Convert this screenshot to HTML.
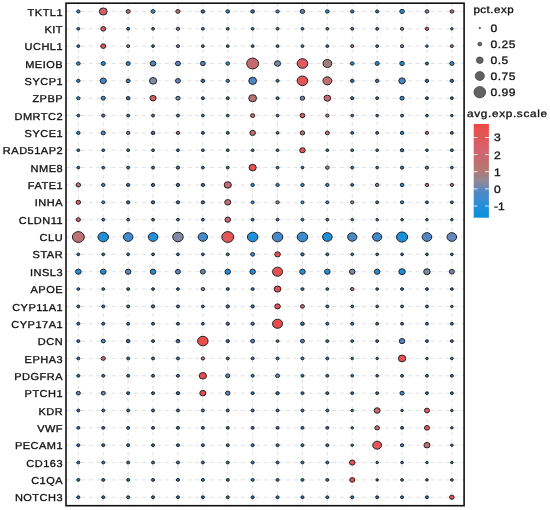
<!DOCTYPE html>
<html><head><meta charset="utf-8"><title>DotPlot</title>
<style>html,body{margin:0;padding:0;background:#fff;width:550px;height:510px;overflow:hidden}svg{display:block;}</style>
</head><body>
<svg width="550" height="510" viewBox="0 0 550 510" text-rendering="geometricPrecision">
<rect x="0" y="0" width="550" height="510" fill="#fff"/>
<g stroke="#dcdcdc" stroke-width="0.85" fill="none"><line x1="66.00" y1="11.45" x2="464.10" y2="11.45" stroke-dasharray="4 3.6"/><line x1="66.00" y1="28.80" x2="464.10" y2="28.80" stroke-dasharray="4 3.6"/><line x1="66.00" y1="46.15" x2="464.10" y2="46.15" stroke-dasharray="4 3.6"/><line x1="66.00" y1="63.50" x2="464.10" y2="63.50" stroke-dasharray="4 3.6"/><line x1="66.00" y1="80.85" x2="464.10" y2="80.85" stroke-dasharray="4 3.6"/><line x1="66.00" y1="98.20" x2="464.10" y2="98.20" stroke-dasharray="4 3.6"/><line x1="66.00" y1="115.55" x2="464.10" y2="115.55" stroke-dasharray="4 3.6"/><line x1="66.00" y1="132.90" x2="464.10" y2="132.90" stroke-dasharray="4 3.6"/><line x1="66.00" y1="150.25" x2="464.10" y2="150.25" stroke-dasharray="4 3.6"/><line x1="66.00" y1="167.60" x2="464.10" y2="167.60" stroke-dasharray="4 3.6"/><line x1="66.00" y1="184.95" x2="464.10" y2="184.95" stroke-dasharray="4 3.6"/><line x1="66.00" y1="202.30" x2="464.10" y2="202.30" stroke-dasharray="4 3.6"/><line x1="66.00" y1="219.65" x2="464.10" y2="219.65" stroke-dasharray="4 3.6"/><line x1="66.00" y1="237.00" x2="464.10" y2="237.00" stroke-dasharray="4 3.6"/><line x1="66.00" y1="254.35" x2="464.10" y2="254.35" stroke-dasharray="4 3.6"/><line x1="66.00" y1="271.70" x2="464.10" y2="271.70" stroke-dasharray="4 3.6"/><line x1="66.00" y1="289.05" x2="464.10" y2="289.05" stroke-dasharray="4 3.6"/><line x1="66.00" y1="306.40" x2="464.10" y2="306.40" stroke-dasharray="4 3.6"/><line x1="66.00" y1="323.75" x2="464.10" y2="323.75" stroke-dasharray="4 3.6"/><line x1="66.00" y1="341.10" x2="464.10" y2="341.10" stroke-dasharray="4 3.6"/><line x1="66.00" y1="358.45" x2="464.10" y2="358.45" stroke-dasharray="4 3.6"/><line x1="66.00" y1="375.80" x2="464.10" y2="375.80" stroke-dasharray="4 3.6"/><line x1="66.00" y1="393.15" x2="464.10" y2="393.15" stroke-dasharray="4 3.6"/><line x1="66.00" y1="410.50" x2="464.10" y2="410.50" stroke-dasharray="4 3.6"/><line x1="66.00" y1="427.85" x2="464.10" y2="427.85" stroke-dasharray="4 3.6"/><line x1="66.00" y1="445.20" x2="464.10" y2="445.20" stroke-dasharray="4 3.6"/><line x1="66.00" y1="462.55" x2="464.10" y2="462.55" stroke-dasharray="4 3.6"/><line x1="66.00" y1="479.90" x2="464.10" y2="479.90" stroke-dasharray="4 3.6"/><line x1="66.00" y1="497.25" x2="464.10" y2="497.25" stroke-dasharray="4 3.6"/><line x1="78.35" y1="3.20" x2="78.35" y2="505.70" stroke-dasharray="3.4 3.2"/><line x1="103.25" y1="3.20" x2="103.25" y2="505.70" stroke-dasharray="3.4 3.2"/><line x1="128.15" y1="3.20" x2="128.15" y2="505.70" stroke-dasharray="3.4 3.2"/><line x1="153.05" y1="3.20" x2="153.05" y2="505.70" stroke-dasharray="3.4 3.2"/><line x1="177.95" y1="3.20" x2="177.95" y2="505.70" stroke-dasharray="3.4 3.2"/><line x1="202.85" y1="3.20" x2="202.85" y2="505.70" stroke-dasharray="3.4 3.2"/><line x1="227.75" y1="3.20" x2="227.75" y2="505.70" stroke-dasharray="3.4 3.2"/><line x1="252.65" y1="3.20" x2="252.65" y2="505.70" stroke-dasharray="3.4 3.2"/><line x1="277.55" y1="3.20" x2="277.55" y2="505.70" stroke-dasharray="3.4 3.2"/><line x1="302.45" y1="3.20" x2="302.45" y2="505.70" stroke-dasharray="3.4 3.2"/><line x1="327.35" y1="3.20" x2="327.35" y2="505.70" stroke-dasharray="3.4 3.2"/><line x1="352.25" y1="3.20" x2="352.25" y2="505.70" stroke-dasharray="3.4 3.2"/><line x1="377.15" y1="3.20" x2="377.15" y2="505.70" stroke-dasharray="3.4 3.2"/><line x1="402.05" y1="3.20" x2="402.05" y2="505.70" stroke-dasharray="3.4 3.2"/><line x1="426.95" y1="3.20" x2="426.95" y2="505.70" stroke-dasharray="3.4 3.2"/><line x1="451.85" y1="3.20" x2="451.85" y2="505.70" stroke-dasharray="3.4 3.2"/></g>
<g stroke="#222228" stroke-width="1.0"><ellipse cx="78.35" cy="11.45" rx="1.70" ry="1.55" fill="#2090d8"/><ellipse cx="103.25" cy="11.45" rx="3.90" ry="3.55" fill="#d8606a"/><ellipse cx="128.15" cy="11.45" rx="2.10" ry="1.91" fill="#c07070"/><ellipse cx="153.05" cy="11.45" rx="2.00" ry="1.82" fill="#2f8ed3"/><ellipse cx="177.95" cy="11.45" rx="2.10" ry="1.91" fill="#ba7473"/><ellipse cx="202.85" cy="11.45" rx="1.85" ry="1.68" fill="#3c6c9f"/><ellipse cx="227.75" cy="11.45" rx="1.85" ry="1.68" fill="#2090d8"/><ellipse cx="252.65" cy="11.45" rx="1.85" ry="1.68" fill="#2970a7"/><ellipse cx="277.55" cy="11.45" rx="1.70" ry="1.55" fill="#2090d8"/><ellipse cx="302.45" cy="11.45" rx="2.25" ry="2.05" fill="#5988c0"/><ellipse cx="327.35" cy="11.45" rx="1.85" ry="1.68" fill="#2090d8"/><ellipse cx="352.25" cy="11.45" rx="1.70" ry="1.55" fill="#2970a7"/><ellipse cx="377.15" cy="11.45" rx="1.65" ry="1.50" fill="#2970a7"/><ellipse cx="402.05" cy="11.45" rx="2.30" ry="2.09" fill="#1a90d9"/><ellipse cx="426.95" cy="11.45" rx="1.85" ry="1.68" fill="#8189a3"/><ellipse cx="451.85" cy="11.45" rx="1.85" ry="1.68" fill="#cc6670"/><ellipse cx="78.35" cy="28.80" rx="1.45" ry="1.32" fill="#2970a7"/><ellipse cx="103.25" cy="28.80" rx="2.50" ry="2.27" fill="#db5d63"/><ellipse cx="128.15" cy="28.80" rx="1.55" ry="1.41" fill="#2970a7"/><ellipse cx="153.05" cy="28.80" rx="1.45" ry="1.32" fill="#2970a7"/><ellipse cx="177.95" cy="28.80" rx="1.70" ry="1.55" fill="#8189a3"/><ellipse cx="202.85" cy="28.80" rx="1.45" ry="1.32" fill="#2970a7"/><ellipse cx="227.75" cy="28.80" rx="1.45" ry="1.32" fill="#2970a7"/><ellipse cx="252.65" cy="28.80" rx="1.45" ry="1.32" fill="#2970a7"/><ellipse cx="277.55" cy="28.80" rx="1.45" ry="1.32" fill="#2970a7"/><ellipse cx="302.45" cy="28.80" rx="1.45" ry="1.32" fill="#2970a7"/><ellipse cx="327.35" cy="28.80" rx="1.45" ry="1.32" fill="#2970a7"/><ellipse cx="352.25" cy="28.80" rx="1.50" ry="1.36" fill="#3c6c9f"/><ellipse cx="377.15" cy="28.80" rx="1.50" ry="1.36" fill="#2970a7"/><ellipse cx="402.05" cy="28.80" rx="1.65" ry="1.50" fill="#7a88a8"/><ellipse cx="426.95" cy="28.80" rx="1.75" ry="1.59" fill="#d8606a"/><ellipse cx="451.85" cy="28.80" rx="1.30" ry="1.18" fill="#2090d8"/><ellipse cx="78.35" cy="46.15" rx="1.45" ry="1.32" fill="#2970a7"/><ellipse cx="103.25" cy="46.15" rx="2.50" ry="2.27" fill="#e05858"/><ellipse cx="128.15" cy="46.15" rx="1.55" ry="1.41" fill="#908a98"/><ellipse cx="153.05" cy="46.15" rx="1.45" ry="1.32" fill="#2970a7"/><ellipse cx="177.95" cy="46.15" rx="1.55" ry="1.41" fill="#8189a3"/><ellipse cx="202.85" cy="46.15" rx="1.45" ry="1.32" fill="#4c6c97"/><ellipse cx="227.75" cy="46.15" rx="1.45" ry="1.32" fill="#2970a7"/><ellipse cx="252.65" cy="46.15" rx="1.45" ry="1.32" fill="#2970a7"/><ellipse cx="277.55" cy="46.15" rx="1.45" ry="1.32" fill="#2970a7"/><ellipse cx="302.45" cy="46.15" rx="1.45" ry="1.32" fill="#2970a7"/><ellipse cx="327.35" cy="46.15" rx="1.45" ry="1.32" fill="#2970a7"/><ellipse cx="352.25" cy="46.15" rx="1.55" ry="1.41" fill="#b07a78"/><ellipse cx="377.15" cy="46.15" rx="1.45" ry="1.32" fill="#2970a7"/><ellipse cx="402.05" cy="46.15" rx="1.65" ry="1.50" fill="#7a88a8"/><ellipse cx="426.95" cy="46.15" rx="1.30" ry="1.18" fill="#2090d8"/><ellipse cx="451.85" cy="46.15" rx="1.55" ry="1.41" fill="#c07070"/><ellipse cx="78.35" cy="63.50" rx="1.85" ry="1.68" fill="#2090d8"/><ellipse cx="103.25" cy="63.50" rx="2.10" ry="1.91" fill="#2090d8"/><ellipse cx="128.15" cy="63.50" rx="2.10" ry="1.91" fill="#2f8ed3"/><ellipse cx="153.05" cy="63.50" rx="2.80" ry="2.55" fill="#4a88c8"/><ellipse cx="177.95" cy="63.50" rx="2.50" ry="2.27" fill="#5988c0"/><ellipse cx="202.85" cy="63.50" rx="2.40" ry="2.18" fill="#418acd"/><ellipse cx="227.75" cy="63.50" rx="1.85" ry="1.68" fill="#2090d8"/><ellipse cx="252.65" cy="63.50" rx="5.95" ry="5.41" fill="#c76a70"/><ellipse cx="277.55" cy="63.50" rx="3.05" ry="2.77" fill="#7a88a8"/><ellipse cx="302.45" cy="63.50" rx="5.30" ry="4.82" fill="#dd5b5f"/><ellipse cx="327.35" cy="63.50" rx="4.30" ry="3.91" fill="#a27f7f"/><ellipse cx="352.25" cy="63.50" rx="1.85" ry="1.68" fill="#2090d8"/><ellipse cx="377.15" cy="63.50" rx="2.10" ry="1.91" fill="#2090d8"/><ellipse cx="402.05" cy="63.50" rx="2.30" ry="2.09" fill="#1a90d9"/><ellipse cx="426.95" cy="63.50" rx="1.55" ry="1.41" fill="#2970a7"/><ellipse cx="451.85" cy="63.50" rx="2.10" ry="1.91" fill="#3c8bcf"/><ellipse cx="78.35" cy="80.85" rx="1.70" ry="1.55" fill="#2090d8"/><ellipse cx="103.25" cy="80.85" rx="3.05" ry="2.77" fill="#418acd"/><ellipse cx="128.15" cy="80.85" rx="2.00" ry="1.82" fill="#2f8ed3"/><ellipse cx="153.05" cy="80.85" rx="3.60" ry="3.27" fill="#8189a3"/><ellipse cx="177.95" cy="80.85" rx="2.50" ry="2.27" fill="#6088bc"/><ellipse cx="202.85" cy="80.85" rx="1.85" ry="1.68" fill="#2970a7"/><ellipse cx="227.75" cy="80.85" rx="1.70" ry="1.55" fill="#2090d8"/><ellipse cx="252.65" cy="80.85" rx="3.90" ry="3.55" fill="#4a88c8"/><ellipse cx="277.55" cy="80.85" rx="1.55" ry="1.41" fill="#2970a7"/><ellipse cx="302.45" cy="80.85" rx="5.30" ry="4.82" fill="#e35554"/><ellipse cx="327.35" cy="80.85" rx="4.45" ry="4.05" fill="#c07070"/><ellipse cx="352.25" cy="80.85" rx="1.75" ry="1.59" fill="#2970a7"/><ellipse cx="377.15" cy="80.85" rx="1.75" ry="1.59" fill="#2970a7"/><ellipse cx="402.05" cy="80.85" rx="3.25" ry="2.95" fill="#4a88c8"/><ellipse cx="426.95" cy="80.85" rx="1.75" ry="1.59" fill="#2970a7"/><ellipse cx="451.85" cy="80.85" rx="1.75" ry="1.59" fill="#2970a7"/><ellipse cx="78.35" cy="98.20" rx="1.70" ry="1.55" fill="#2090d8"/><ellipse cx="103.25" cy="98.20" rx="2.10" ry="1.91" fill="#418acd"/><ellipse cx="128.15" cy="98.20" rx="1.85" ry="1.68" fill="#366da3"/><ellipse cx="153.05" cy="98.20" rx="3.05" ry="2.77" fill="#dd5b5f"/><ellipse cx="177.95" cy="98.20" rx="2.10" ry="1.91" fill="#7a88a8"/><ellipse cx="202.85" cy="98.20" rx="1.55" ry="1.41" fill="#2970a7"/><ellipse cx="227.75" cy="98.20" rx="1.55" ry="1.41" fill="#2970a7"/><ellipse cx="252.65" cy="98.20" rx="3.90" ry="3.55" fill="#ba7473"/><ellipse cx="277.55" cy="98.20" rx="1.55" ry="1.41" fill="#2970a7"/><ellipse cx="302.45" cy="98.20" rx="2.25" ry="2.05" fill="#6d88b2"/><ellipse cx="327.35" cy="98.20" rx="3.35" ry="3.05" fill="#d1646e"/><ellipse cx="352.25" cy="98.20" rx="1.65" ry="1.50" fill="#366da3"/><ellipse cx="377.15" cy="98.20" rx="1.50" ry="1.36" fill="#2970a7"/><ellipse cx="402.05" cy="98.20" rx="2.10" ry="1.91" fill="#1a90d9"/><ellipse cx="426.95" cy="98.20" rx="1.50" ry="1.36" fill="#2970a7"/><ellipse cx="451.85" cy="98.20" rx="1.50" ry="1.36" fill="#2970a7"/><ellipse cx="78.35" cy="115.55" rx="1.45" ry="1.32" fill="#2970a7"/><ellipse cx="103.25" cy="115.55" rx="1.70" ry="1.55" fill="#4c6c97"/><ellipse cx="128.15" cy="115.55" rx="1.55" ry="1.41" fill="#2970a7"/><ellipse cx="153.05" cy="115.55" rx="1.55" ry="1.41" fill="#2970a7"/><ellipse cx="177.95" cy="115.55" rx="1.55" ry="1.41" fill="#366da3"/><ellipse cx="202.85" cy="115.55" rx="1.45" ry="1.32" fill="#2970a7"/><ellipse cx="227.75" cy="115.55" rx="1.45" ry="1.32" fill="#2970a7"/><ellipse cx="252.65" cy="115.55" rx="2.10" ry="1.91" fill="#c07070"/><ellipse cx="277.55" cy="115.55" rx="1.45" ry="1.32" fill="#2970a7"/><ellipse cx="302.45" cy="115.55" rx="2.40" ry="2.18" fill="#e05858"/><ellipse cx="327.35" cy="115.55" rx="1.70" ry="1.55" fill="#a27f7f"/><ellipse cx="352.25" cy="115.55" rx="1.45" ry="1.32" fill="#2970a7"/><ellipse cx="377.15" cy="115.55" rx="1.40" ry="1.27" fill="#2970a7"/><ellipse cx="402.05" cy="115.55" rx="1.50" ry="1.36" fill="#326ea4"/><ellipse cx="426.95" cy="115.55" rx="1.40" ry="1.27" fill="#2970a7"/><ellipse cx="451.85" cy="115.55" rx="1.30" ry="1.18" fill="#2970a7"/><ellipse cx="78.35" cy="132.90" rx="1.70" ry="1.55" fill="#2090d8"/><ellipse cx="103.25" cy="132.90" rx="2.10" ry="1.91" fill="#4a88c8"/><ellipse cx="128.15" cy="132.90" rx="1.70" ry="1.55" fill="#8189a3"/><ellipse cx="153.05" cy="132.90" rx="1.85" ry="1.68" fill="#366da3"/><ellipse cx="177.95" cy="132.90" rx="1.70" ry="1.55" fill="#b07a78"/><ellipse cx="202.85" cy="132.90" rx="1.55" ry="1.41" fill="#2970a7"/><ellipse cx="227.75" cy="132.90" rx="1.55" ry="1.41" fill="#2970a7"/><ellipse cx="252.65" cy="132.90" rx="2.80" ry="2.55" fill="#c07070"/><ellipse cx="277.55" cy="132.90" rx="1.45" ry="1.32" fill="#2970a7"/><ellipse cx="302.45" cy="132.90" rx="2.25" ry="2.05" fill="#c56c70"/><ellipse cx="327.35" cy="132.90" rx="2.00" ry="1.82" fill="#c07070"/><ellipse cx="352.25" cy="132.90" rx="1.50" ry="1.36" fill="#2970a7"/><ellipse cx="377.15" cy="132.90" rx="1.50" ry="1.36" fill="#366da3"/><ellipse cx="402.05" cy="132.90" rx="1.75" ry="1.59" fill="#1a90d9"/><ellipse cx="426.95" cy="132.90" rx="1.65" ry="1.50" fill="#ba7473"/><ellipse cx="451.85" cy="132.90" rx="1.50" ry="1.36" fill="#2970a7"/><ellipse cx="78.35" cy="150.25" rx="1.45" ry="1.32" fill="#2970a7"/><ellipse cx="103.25" cy="150.25" rx="1.45" ry="1.32" fill="#2970a7"/><ellipse cx="128.15" cy="150.25" rx="1.45" ry="1.32" fill="#2970a7"/><ellipse cx="153.05" cy="150.25" rx="1.45" ry="1.32" fill="#2970a7"/><ellipse cx="177.95" cy="150.25" rx="1.45" ry="1.32" fill="#2970a7"/><ellipse cx="202.85" cy="150.25" rx="1.45" ry="1.32" fill="#2970a7"/><ellipse cx="227.75" cy="150.25" rx="1.45" ry="1.32" fill="#2970a7"/><ellipse cx="252.65" cy="150.25" rx="1.45" ry="1.32" fill="#2970a7"/><ellipse cx="277.55" cy="150.25" rx="1.45" ry="1.32" fill="#2970a7"/><ellipse cx="302.45" cy="150.25" rx="2.80" ry="2.55" fill="#e35554"/><ellipse cx="327.35" cy="150.25" rx="1.45" ry="1.32" fill="#2970a7"/><ellipse cx="352.25" cy="150.25" rx="1.45" ry="1.32" fill="#366da3"/><ellipse cx="377.15" cy="150.25" rx="1.40" ry="1.27" fill="#366da3"/><ellipse cx="402.05" cy="150.25" rx="1.75" ry="1.59" fill="#3c6c9f"/><ellipse cx="426.95" cy="150.25" rx="1.40" ry="1.27" fill="#2970a7"/><ellipse cx="451.85" cy="150.25" rx="1.50" ry="1.36" fill="#3c6c9f"/><ellipse cx="78.35" cy="167.60" rx="1.45" ry="1.32" fill="#2970a7"/><ellipse cx="103.25" cy="167.60" rx="1.45" ry="1.32" fill="#2970a7"/><ellipse cx="128.15" cy="167.60" rx="1.55" ry="1.41" fill="#2970a7"/><ellipse cx="153.05" cy="167.60" rx="1.55" ry="1.41" fill="#2970a7"/><ellipse cx="177.95" cy="167.60" rx="1.70" ry="1.55" fill="#4c6c97"/><ellipse cx="202.85" cy="167.60" rx="1.45" ry="1.32" fill="#2970a7"/><ellipse cx="227.75" cy="167.60" rx="1.45" ry="1.32" fill="#2970a7"/><ellipse cx="252.65" cy="167.60" rx="3.60" ry="3.27" fill="#e45352"/><ellipse cx="277.55" cy="167.60" rx="1.45" ry="1.32" fill="#2970a7"/><ellipse cx="302.45" cy="167.60" rx="1.45" ry="1.32" fill="#2970a7"/><ellipse cx="327.35" cy="167.60" rx="1.85" ry="1.68" fill="#908a98"/><ellipse cx="352.25" cy="167.60" rx="1.50" ry="1.36" fill="#3c6c9f"/><ellipse cx="377.15" cy="167.60" rx="1.40" ry="1.27" fill="#2970a7"/><ellipse cx="402.05" cy="167.60" rx="1.65" ry="1.50" fill="#366da3"/><ellipse cx="426.95" cy="167.60" rx="1.65" ry="1.50" fill="#4c6c97"/><ellipse cx="451.85" cy="167.60" rx="1.40" ry="1.27" fill="#2970a7"/><ellipse cx="78.35" cy="184.95" rx="2.25" ry="2.05" fill="#ba7473"/><ellipse cx="103.25" cy="184.95" rx="1.70" ry="1.55" fill="#2090d8"/><ellipse cx="128.15" cy="184.95" rx="1.70" ry="1.55" fill="#3c6c9f"/><ellipse cx="153.05" cy="184.95" rx="1.70" ry="1.55" fill="#2970a7"/><ellipse cx="177.95" cy="184.95" rx="1.70" ry="1.55" fill="#3c6c9f"/><ellipse cx="202.85" cy="184.95" rx="1.70" ry="1.55" fill="#3c6c9f"/><ellipse cx="227.75" cy="184.95" rx="3.60" ry="3.27" fill="#cc6670"/><ellipse cx="252.65" cy="184.95" rx="1.70" ry="1.55" fill="#2090d8"/><ellipse cx="277.55" cy="184.95" rx="1.70" ry="1.55" fill="#2090d8"/><ellipse cx="302.45" cy="184.95" rx="1.70" ry="1.55" fill="#2090d8"/><ellipse cx="327.35" cy="184.95" rx="1.70" ry="1.55" fill="#2090d8"/><ellipse cx="352.25" cy="184.95" rx="1.50" ry="1.36" fill="#366da3"/><ellipse cx="377.15" cy="184.95" rx="1.75" ry="1.59" fill="#7a88a8"/><ellipse cx="402.05" cy="184.95" rx="1.85" ry="1.68" fill="#1690da"/><ellipse cx="426.95" cy="184.95" rx="1.75" ry="1.59" fill="#c07070"/><ellipse cx="451.85" cy="184.95" rx="1.65" ry="1.50" fill="#c07070"/><ellipse cx="78.35" cy="202.30" rx="2.25" ry="2.05" fill="#dd5b5f"/><ellipse cx="103.25" cy="202.30" rx="1.55" ry="1.41" fill="#2090d8"/><ellipse cx="128.15" cy="202.30" rx="1.70" ry="1.55" fill="#3c6c9f"/><ellipse cx="153.05" cy="202.30" rx="1.70" ry="1.55" fill="#2970a7"/><ellipse cx="177.95" cy="202.30" rx="1.70" ry="1.55" fill="#366da3"/><ellipse cx="202.85" cy="202.30" rx="1.70" ry="1.55" fill="#366da3"/><ellipse cx="227.75" cy="202.30" rx="3.05" ry="2.77" fill="#c76a70"/><ellipse cx="252.65" cy="202.30" rx="1.55" ry="1.41" fill="#2090d8"/><ellipse cx="277.55" cy="202.30" rx="1.70" ry="1.55" fill="#a27f7f"/><ellipse cx="302.45" cy="202.30" rx="1.55" ry="1.41" fill="#2090d8"/><ellipse cx="327.35" cy="202.30" rx="1.55" ry="1.41" fill="#2090d8"/><ellipse cx="352.25" cy="202.30" rx="1.65" ry="1.50" fill="#908a98"/><ellipse cx="377.15" cy="202.30" rx="1.50" ry="1.36" fill="#2970a7"/><ellipse cx="402.05" cy="202.30" rx="1.65" ry="1.50" fill="#1a90d9"/><ellipse cx="426.95" cy="202.30" rx="1.50" ry="1.36" fill="#2970a7"/><ellipse cx="451.85" cy="202.30" rx="1.50" ry="1.36" fill="#2970a7"/><ellipse cx="78.35" cy="219.65" rx="2.10" ry="1.91" fill="#dd5b5f"/><ellipse cx="103.25" cy="219.65" rx="1.45" ry="1.32" fill="#2970a7"/><ellipse cx="128.15" cy="219.65" rx="1.45" ry="1.32" fill="#2970a7"/><ellipse cx="153.05" cy="219.65" rx="1.45" ry="1.32" fill="#2970a7"/><ellipse cx="177.95" cy="219.65" rx="1.45" ry="1.32" fill="#2970a7"/><ellipse cx="202.85" cy="219.65" rx="1.45" ry="1.32" fill="#2970a7"/><ellipse cx="227.75" cy="219.65" rx="2.80" ry="2.55" fill="#cc6670"/><ellipse cx="252.65" cy="219.65" rx="1.45" ry="1.32" fill="#2970a7"/><ellipse cx="277.55" cy="219.65" rx="1.45" ry="1.32" fill="#2970a7"/><ellipse cx="302.45" cy="219.65" rx="1.45" ry="1.32" fill="#2970a7"/><ellipse cx="327.35" cy="219.65" rx="1.45" ry="1.32" fill="#2970a7"/><ellipse cx="352.25" cy="219.65" rx="1.30" ry="1.18" fill="#2970a7"/><ellipse cx="377.15" cy="219.65" rx="1.30" ry="1.18" fill="#2970a7"/><ellipse cx="402.05" cy="219.65" rx="1.30" ry="1.18" fill="#2970a7"/><ellipse cx="426.95" cy="219.65" rx="1.30" ry="1.18" fill="#2970a7"/><ellipse cx="451.85" cy="219.65" rx="1.30" ry="1.18" fill="#2970a7"/><ellipse cx="78.35" cy="237.00" rx="5.95" ry="5.41" fill="#ba7473"/><ellipse cx="103.25" cy="237.00" rx="5.25" ry="4.77" fill="#1d90d9"/><ellipse cx="128.15" cy="237.00" rx="4.80" ry="4.36" fill="#418acd"/><ellipse cx="153.05" cy="237.00" rx="4.80" ry="4.36" fill="#2090d8"/><ellipse cx="177.95" cy="237.00" rx="5.25" ry="4.77" fill="#8189a3"/><ellipse cx="202.85" cy="237.00" rx="4.70" ry="4.27" fill="#418acd"/><ellipse cx="227.75" cy="237.00" rx="5.95" ry="5.41" fill="#e05858"/><ellipse cx="252.65" cy="237.00" rx="5.25" ry="4.77" fill="#1d90d9"/><ellipse cx="277.55" cy="237.00" rx="5.25" ry="4.77" fill="#4589ca"/><ellipse cx="302.45" cy="237.00" rx="5.25" ry="4.77" fill="#3c8bcf"/><ellipse cx="327.35" cy="237.00" rx="4.80" ry="4.36" fill="#1d90d9"/><ellipse cx="352.25" cy="237.00" rx="4.60" ry="4.18" fill="#4a88c8"/><ellipse cx="377.15" cy="237.00" rx="4.60" ry="4.18" fill="#418acd"/><ellipse cx="402.05" cy="237.00" rx="5.55" ry="5.05" fill="#1a90d9"/><ellipse cx="426.95" cy="237.00" rx="4.80" ry="4.36" fill="#5188c4"/><ellipse cx="451.85" cy="237.00" rx="4.80" ry="4.36" fill="#6688b7"/><ellipse cx="78.35" cy="254.35" rx="1.45" ry="1.32" fill="#2970a7"/><ellipse cx="103.25" cy="254.35" rx="1.45" ry="1.32" fill="#2970a7"/><ellipse cx="128.15" cy="254.35" rx="1.45" ry="1.32" fill="#2970a7"/><ellipse cx="153.05" cy="254.35" rx="1.45" ry="1.32" fill="#2970a7"/><ellipse cx="177.95" cy="254.35" rx="1.45" ry="1.32" fill="#2970a7"/><ellipse cx="202.85" cy="254.35" rx="1.45" ry="1.32" fill="#2970a7"/><ellipse cx="227.75" cy="254.35" rx="1.55" ry="1.41" fill="#2970a7"/><ellipse cx="252.65" cy="254.35" rx="2.00" ry="1.82" fill="#418acd"/><ellipse cx="277.55" cy="254.35" rx="2.80" ry="2.55" fill="#e7504e"/><ellipse cx="302.45" cy="254.35" rx="1.70" ry="1.55" fill="#366da3"/><ellipse cx="327.35" cy="254.35" rx="1.55" ry="1.41" fill="#366da3"/><ellipse cx="352.25" cy="254.35" rx="1.40" ry="1.27" fill="#2970a7"/><ellipse cx="377.15" cy="254.35" rx="1.40" ry="1.27" fill="#2970a7"/><ellipse cx="402.05" cy="254.35" rx="1.40" ry="1.27" fill="#2970a7"/><ellipse cx="426.95" cy="254.35" rx="1.40" ry="1.27" fill="#2970a7"/><ellipse cx="451.85" cy="254.35" rx="1.40" ry="1.27" fill="#2970a7"/><ellipse cx="78.35" cy="271.70" rx="2.80" ry="2.55" fill="#2090d8"/><ellipse cx="103.25" cy="271.70" rx="2.80" ry="2.55" fill="#1d90d9"/><ellipse cx="128.15" cy="271.70" rx="2.80" ry="2.55" fill="#5988c0"/><ellipse cx="153.05" cy="271.70" rx="2.80" ry="2.55" fill="#278fd6"/><ellipse cx="177.95" cy="271.70" rx="2.50" ry="2.27" fill="#5988c0"/><ellipse cx="202.85" cy="271.70" rx="2.50" ry="2.27" fill="#6088bc"/><ellipse cx="227.75" cy="271.70" rx="2.80" ry="2.55" fill="#2090d8"/><ellipse cx="252.65" cy="271.70" rx="2.80" ry="2.55" fill="#278fd6"/><ellipse cx="277.55" cy="271.70" rx="5.00" ry="4.55" fill="#e7504e"/><ellipse cx="302.45" cy="271.70" rx="2.80" ry="2.55" fill="#278fd6"/><ellipse cx="327.35" cy="271.70" rx="2.80" ry="2.55" fill="#2090d8"/><ellipse cx="352.25" cy="271.70" rx="2.80" ry="2.55" fill="#7a88a8"/><ellipse cx="377.15" cy="271.70" rx="2.80" ry="2.55" fill="#278fd6"/><ellipse cx="402.05" cy="271.70" rx="3.25" ry="2.95" fill="#1690da"/><ellipse cx="426.95" cy="271.70" rx="3.25" ry="2.95" fill="#8189a3"/><ellipse cx="451.85" cy="271.70" rx="2.55" ry="2.32" fill="#7a88a8"/><ellipse cx="78.35" cy="289.05" rx="1.45" ry="1.32" fill="#2970a7"/><ellipse cx="103.25" cy="289.05" rx="1.45" ry="1.32" fill="#2970a7"/><ellipse cx="128.15" cy="289.05" rx="1.45" ry="1.32" fill="#2970a7"/><ellipse cx="153.05" cy="289.05" rx="1.45" ry="1.32" fill="#2970a7"/><ellipse cx="177.95" cy="289.05" rx="1.45" ry="1.32" fill="#2970a7"/><ellipse cx="202.85" cy="289.05" rx="1.70" ry="1.55" fill="#8189a3"/><ellipse cx="227.75" cy="289.05" rx="1.55" ry="1.41" fill="#2970a7"/><ellipse cx="252.65" cy="289.05" rx="1.55" ry="1.41" fill="#2970a7"/><ellipse cx="277.55" cy="289.05" rx="3.35" ry="3.05" fill="#e94e4c"/><ellipse cx="302.45" cy="289.05" rx="1.55" ry="1.41" fill="#2970a7"/><ellipse cx="327.35" cy="289.05" rx="1.45" ry="1.32" fill="#2970a7"/><ellipse cx="352.25" cy="289.05" rx="1.75" ry="1.59" fill="#a27f7f"/><ellipse cx="377.15" cy="289.05" rx="1.40" ry="1.27" fill="#2970a7"/><ellipse cx="402.05" cy="289.05" rx="1.50" ry="1.36" fill="#2970a7"/><ellipse cx="426.95" cy="289.05" rx="1.50" ry="1.36" fill="#2970a7"/><ellipse cx="451.85" cy="289.05" rx="1.40" ry="1.27" fill="#2970a7"/><ellipse cx="78.35" cy="306.40" rx="1.55" ry="1.41" fill="#2970a7"/><ellipse cx="103.25" cy="306.40" rx="1.55" ry="1.41" fill="#2970a7"/><ellipse cx="128.15" cy="306.40" rx="1.55" ry="1.41" fill="#2970a7"/><ellipse cx="153.05" cy="306.40" rx="1.70" ry="1.55" fill="#4c6c97"/><ellipse cx="177.95" cy="306.40" rx="1.55" ry="1.41" fill="#2970a7"/><ellipse cx="202.85" cy="306.40" rx="1.45" ry="1.32" fill="#2970a7"/><ellipse cx="227.75" cy="306.40" rx="1.70" ry="1.55" fill="#2970a7"/><ellipse cx="252.65" cy="306.40" rx="1.70" ry="1.55" fill="#2970a7"/><ellipse cx="277.55" cy="306.40" rx="2.80" ry="2.55" fill="#e7504e"/><ellipse cx="302.45" cy="306.40" rx="2.00" ry="1.82" fill="#c76a70"/><ellipse cx="327.35" cy="306.40" rx="1.55" ry="1.41" fill="#2970a7"/><ellipse cx="352.25" cy="306.40" rx="1.45" ry="1.32" fill="#2970a7"/><ellipse cx="377.15" cy="306.40" rx="1.40" ry="1.27" fill="#2970a7"/><ellipse cx="402.05" cy="306.40" rx="1.50" ry="1.36" fill="#2970a7"/><ellipse cx="426.95" cy="306.40" rx="1.50" ry="1.36" fill="#2970a7"/><ellipse cx="451.85" cy="306.40" rx="1.30" ry="1.18" fill="#2970a7"/><ellipse cx="78.35" cy="323.75" rx="1.55" ry="1.41" fill="#2970a7"/><ellipse cx="103.25" cy="323.75" rx="1.55" ry="1.41" fill="#2970a7"/><ellipse cx="128.15" cy="323.75" rx="1.55" ry="1.41" fill="#2970a7"/><ellipse cx="153.05" cy="323.75" rx="1.55" ry="1.41" fill="#2970a7"/><ellipse cx="177.95" cy="323.75" rx="1.55" ry="1.41" fill="#2970a7"/><ellipse cx="202.85" cy="323.75" rx="1.45" ry="1.32" fill="#2970a7"/><ellipse cx="227.75" cy="323.75" rx="1.70" ry="1.55" fill="#2970a7"/><ellipse cx="252.65" cy="323.75" rx="1.70" ry="1.55" fill="#2970a7"/><ellipse cx="277.55" cy="323.75" rx="5.00" ry="4.55" fill="#e94e4c"/><ellipse cx="302.45" cy="323.75" rx="1.85" ry="1.68" fill="#2970a7"/><ellipse cx="327.35" cy="323.75" rx="1.55" ry="1.41" fill="#2970a7"/><ellipse cx="352.25" cy="323.75" rx="1.55" ry="1.41" fill="#2970a7"/><ellipse cx="377.15" cy="323.75" rx="1.50" ry="1.36" fill="#2970a7"/><ellipse cx="402.05" cy="323.75" rx="1.50" ry="1.36" fill="#2970a7"/><ellipse cx="426.95" cy="323.75" rx="1.50" ry="1.36" fill="#2970a7"/><ellipse cx="451.85" cy="323.75" rx="1.50" ry="1.36" fill="#2970a7"/><ellipse cx="78.35" cy="341.10" rx="1.55" ry="1.41" fill="#2970a7"/><ellipse cx="103.25" cy="341.10" rx="2.00" ry="1.82" fill="#418acd"/><ellipse cx="128.15" cy="341.10" rx="1.85" ry="1.68" fill="#366da3"/><ellipse cx="153.05" cy="341.10" rx="1.55" ry="1.41" fill="#2970a7"/><ellipse cx="177.95" cy="341.10" rx="1.85" ry="1.68" fill="#366da3"/><ellipse cx="202.85" cy="341.10" rx="5.25" ry="4.77" fill="#e94e4c"/><ellipse cx="227.75" cy="341.10" rx="1.70" ry="1.55" fill="#2970a7"/><ellipse cx="252.65" cy="341.10" rx="2.00" ry="1.82" fill="#418acd"/><ellipse cx="277.55" cy="341.10" rx="1.45" ry="1.32" fill="#2970a7"/><ellipse cx="302.45" cy="341.10" rx="2.00" ry="1.82" fill="#418acd"/><ellipse cx="327.35" cy="341.10" rx="1.55" ry="1.41" fill="#2970a7"/><ellipse cx="352.25" cy="341.10" rx="1.45" ry="1.32" fill="#2970a7"/><ellipse cx="377.15" cy="341.10" rx="1.50" ry="1.36" fill="#2970a7"/><ellipse cx="402.05" cy="341.10" rx="2.80" ry="2.55" fill="#5188c4"/><ellipse cx="426.95" cy="341.10" rx="1.50" ry="1.36" fill="#2970a7"/><ellipse cx="451.85" cy="341.10" rx="1.50" ry="1.36" fill="#2970a7"/><ellipse cx="78.35" cy="358.45" rx="1.55" ry="1.41" fill="#2970a7"/><ellipse cx="103.25" cy="358.45" rx="2.10" ry="1.91" fill="#c07070"/><ellipse cx="128.15" cy="358.45" rx="1.55" ry="1.41" fill="#2970a7"/><ellipse cx="153.05" cy="358.45" rx="1.55" ry="1.41" fill="#2970a7"/><ellipse cx="177.95" cy="358.45" rx="1.55" ry="1.41" fill="#2970a7"/><ellipse cx="202.85" cy="358.45" rx="1.70" ry="1.55" fill="#c07070"/><ellipse cx="227.75" cy="358.45" rx="1.55" ry="1.41" fill="#2970a7"/><ellipse cx="252.65" cy="358.45" rx="1.55" ry="1.41" fill="#2970a7"/><ellipse cx="277.55" cy="358.45" rx="1.55" ry="1.41" fill="#2970a7"/><ellipse cx="302.45" cy="358.45" rx="1.55" ry="1.41" fill="#2970a7"/><ellipse cx="327.35" cy="358.45" rx="1.55" ry="1.41" fill="#2970a7"/><ellipse cx="352.25" cy="358.45" rx="1.30" ry="1.18" fill="#2970a7"/><ellipse cx="377.15" cy="358.45" rx="1.30" ry="1.18" fill="#2970a7"/><ellipse cx="402.05" cy="358.45" rx="3.70" ry="3.36" fill="#e45352"/><ellipse cx="426.95" cy="358.45" rx="1.30" ry="1.18" fill="#2970a7"/><ellipse cx="451.85" cy="358.45" rx="1.40" ry="1.27" fill="#2970a7"/><ellipse cx="78.35" cy="375.80" rx="1.55" ry="1.41" fill="#2970a7"/><ellipse cx="103.25" cy="375.80" rx="1.55" ry="1.41" fill="#2970a7"/><ellipse cx="128.15" cy="375.80" rx="1.55" ry="1.41" fill="#2970a7"/><ellipse cx="153.05" cy="375.80" rx="1.55" ry="1.41" fill="#2970a7"/><ellipse cx="177.95" cy="375.80" rx="1.55" ry="1.41" fill="#2970a7"/><ellipse cx="202.85" cy="375.80" rx="3.60" ry="3.27" fill="#e7504e"/><ellipse cx="227.75" cy="375.80" rx="2.10" ry="1.91" fill="#4a88c8"/><ellipse cx="252.65" cy="375.80" rx="1.55" ry="1.41" fill="#2970a7"/><ellipse cx="277.55" cy="375.80" rx="2.00" ry="1.82" fill="#6088bc"/><ellipse cx="302.45" cy="375.80" rx="1.55" ry="1.41" fill="#2970a7"/><ellipse cx="327.35" cy="375.80" rx="1.55" ry="1.41" fill="#2970a7"/><ellipse cx="352.25" cy="375.80" rx="1.40" ry="1.27" fill="#2970a7"/><ellipse cx="377.15" cy="375.80" rx="1.40" ry="1.27" fill="#2970a7"/><ellipse cx="402.05" cy="375.80" rx="1.50" ry="1.36" fill="#2970a7"/><ellipse cx="426.95" cy="375.80" rx="1.50" ry="1.36" fill="#2970a7"/><ellipse cx="451.85" cy="375.80" rx="1.50" ry="1.36" fill="#2970a7"/><ellipse cx="78.35" cy="393.15" rx="2.00" ry="1.82" fill="#6088bc"/><ellipse cx="103.25" cy="393.15" rx="2.00" ry="1.82" fill="#6088bc"/><ellipse cx="128.15" cy="393.15" rx="1.55" ry="1.41" fill="#2970a7"/><ellipse cx="153.05" cy="393.15" rx="1.55" ry="1.41" fill="#2970a7"/><ellipse cx="177.95" cy="393.15" rx="1.70" ry="1.55" fill="#2970a7"/><ellipse cx="202.85" cy="393.15" rx="3.05" ry="2.77" fill="#e7504e"/><ellipse cx="227.75" cy="393.15" rx="2.25" ry="2.05" fill="#6088bc"/><ellipse cx="252.65" cy="393.15" rx="1.55" ry="1.41" fill="#2970a7"/><ellipse cx="277.55" cy="393.15" rx="1.70" ry="1.55" fill="#366da3"/><ellipse cx="302.45" cy="393.15" rx="1.55" ry="1.41" fill="#2970a7"/><ellipse cx="327.35" cy="393.15" rx="1.55" ry="1.41" fill="#2970a7"/><ellipse cx="352.25" cy="393.15" rx="1.50" ry="1.36" fill="#2970a7"/><ellipse cx="377.15" cy="393.15" rx="1.50" ry="1.36" fill="#2970a7"/><ellipse cx="402.05" cy="393.15" rx="2.10" ry="1.91" fill="#418acd"/><ellipse cx="426.95" cy="393.15" rx="1.50" ry="1.36" fill="#366da3"/><ellipse cx="451.85" cy="393.15" rx="1.50" ry="1.36" fill="#2970a7"/><ellipse cx="78.35" cy="410.50" rx="1.55" ry="1.41" fill="#2970a7"/><ellipse cx="103.25" cy="410.50" rx="1.55" ry="1.41" fill="#2970a7"/><ellipse cx="128.15" cy="410.50" rx="1.55" ry="1.41" fill="#2970a7"/><ellipse cx="153.05" cy="410.50" rx="1.55" ry="1.41" fill="#2970a7"/><ellipse cx="177.95" cy="410.50" rx="1.55" ry="1.41" fill="#2970a7"/><ellipse cx="202.85" cy="410.50" rx="1.55" ry="1.41" fill="#2970a7"/><ellipse cx="227.75" cy="410.50" rx="1.55" ry="1.41" fill="#2970a7"/><ellipse cx="252.65" cy="410.50" rx="1.55" ry="1.41" fill="#2970a7"/><ellipse cx="277.55" cy="410.50" rx="1.55" ry="1.41" fill="#2970a7"/><ellipse cx="302.45" cy="410.50" rx="1.55" ry="1.41" fill="#2970a7"/><ellipse cx="327.35" cy="410.50" rx="1.55" ry="1.41" fill="#2970a7"/><ellipse cx="352.25" cy="410.50" rx="1.30" ry="1.18" fill="#2970a7"/><ellipse cx="377.15" cy="410.50" rx="3.00" ry="2.73" fill="#d1646e"/><ellipse cx="402.05" cy="410.50" rx="1.30" ry="1.18" fill="#2970a7"/><ellipse cx="426.95" cy="410.50" rx="2.55" ry="2.32" fill="#e05858"/><ellipse cx="451.85" cy="410.50" rx="1.30" ry="1.18" fill="#2970a7"/><ellipse cx="78.35" cy="427.85" rx="1.55" ry="1.41" fill="#2970a7"/><ellipse cx="103.25" cy="427.85" rx="1.55" ry="1.41" fill="#2970a7"/><ellipse cx="128.15" cy="427.85" rx="1.55" ry="1.41" fill="#2970a7"/><ellipse cx="153.05" cy="427.85" rx="1.55" ry="1.41" fill="#2970a7"/><ellipse cx="177.95" cy="427.85" rx="1.55" ry="1.41" fill="#2970a7"/><ellipse cx="202.85" cy="427.85" rx="1.55" ry="1.41" fill="#2970a7"/><ellipse cx="227.75" cy="427.85" rx="1.55" ry="1.41" fill="#2970a7"/><ellipse cx="252.65" cy="427.85" rx="1.55" ry="1.41" fill="#2970a7"/><ellipse cx="277.55" cy="427.85" rx="1.55" ry="1.41" fill="#2970a7"/><ellipse cx="302.45" cy="427.85" rx="1.55" ry="1.41" fill="#2970a7"/><ellipse cx="327.35" cy="427.85" rx="1.55" ry="1.41" fill="#2970a7"/><ellipse cx="352.25" cy="427.85" rx="1.30" ry="1.18" fill="#2970a7"/><ellipse cx="377.15" cy="427.85" rx="2.30" ry="2.09" fill="#cc6670"/><ellipse cx="402.05" cy="427.85" rx="1.50" ry="1.36" fill="#2970a7"/><ellipse cx="426.95" cy="427.85" rx="2.55" ry="2.32" fill="#e05858"/><ellipse cx="451.85" cy="427.85" rx="1.30" ry="1.18" fill="#2970a7"/><ellipse cx="78.35" cy="445.20" rx="1.55" ry="1.41" fill="#2970a7"/><ellipse cx="103.25" cy="445.20" rx="1.55" ry="1.41" fill="#2970a7"/><ellipse cx="128.15" cy="445.20" rx="1.55" ry="1.41" fill="#2970a7"/><ellipse cx="153.05" cy="445.20" rx="1.55" ry="1.41" fill="#2970a7"/><ellipse cx="177.95" cy="445.20" rx="1.55" ry="1.41" fill="#2970a7"/><ellipse cx="202.85" cy="445.20" rx="1.55" ry="1.41" fill="#2970a7"/><ellipse cx="227.75" cy="445.20" rx="1.55" ry="1.41" fill="#2970a7"/><ellipse cx="252.65" cy="445.20" rx="1.55" ry="1.41" fill="#2970a7"/><ellipse cx="277.55" cy="445.20" rx="1.55" ry="1.41" fill="#2970a7"/><ellipse cx="302.45" cy="445.20" rx="1.55" ry="1.41" fill="#2970a7"/><ellipse cx="327.35" cy="445.20" rx="1.55" ry="1.41" fill="#2970a7"/><ellipse cx="352.25" cy="445.20" rx="1.30" ry="1.18" fill="#2970a7"/><ellipse cx="377.15" cy="445.20" rx="4.40" ry="4.00" fill="#e05858"/><ellipse cx="402.05" cy="445.20" rx="1.65" ry="1.50" fill="#2090d8"/><ellipse cx="426.95" cy="445.20" rx="3.00" ry="2.73" fill="#c07070"/><ellipse cx="451.85" cy="445.20" rx="1.30" ry="1.18" fill="#2970a7"/><ellipse cx="78.35" cy="462.55" rx="1.55" ry="1.41" fill="#2970a7"/><ellipse cx="103.25" cy="462.55" rx="1.55" ry="1.41" fill="#2970a7"/><ellipse cx="128.15" cy="462.55" rx="1.55" ry="1.41" fill="#2970a7"/><ellipse cx="153.05" cy="462.55" rx="1.55" ry="1.41" fill="#2970a7"/><ellipse cx="177.95" cy="462.55" rx="1.55" ry="1.41" fill="#2970a7"/><ellipse cx="202.85" cy="462.55" rx="1.55" ry="1.41" fill="#2970a7"/><ellipse cx="227.75" cy="462.55" rx="1.55" ry="1.41" fill="#2970a7"/><ellipse cx="252.65" cy="462.55" rx="1.55" ry="1.41" fill="#2970a7"/><ellipse cx="277.55" cy="462.55" rx="1.55" ry="1.41" fill="#2970a7"/><ellipse cx="302.45" cy="462.55" rx="1.55" ry="1.41" fill="#2970a7"/><ellipse cx="327.35" cy="462.55" rx="1.55" ry="1.41" fill="#2970a7"/><ellipse cx="352.25" cy="462.55" rx="2.80" ry="2.55" fill="#e7504e"/><ellipse cx="377.15" cy="462.55" rx="1.30" ry="1.18" fill="#2970a7"/><ellipse cx="402.05" cy="462.55" rx="1.40" ry="1.27" fill="#366da3"/><ellipse cx="426.95" cy="462.55" rx="1.30" ry="1.18" fill="#2970a7"/><ellipse cx="451.85" cy="462.55" rx="1.30" ry="1.18" fill="#2970a7"/><ellipse cx="78.35" cy="479.90" rx="1.55" ry="1.41" fill="#2970a7"/><ellipse cx="103.25" cy="479.90" rx="1.55" ry="1.41" fill="#2970a7"/><ellipse cx="128.15" cy="479.90" rx="1.55" ry="1.41" fill="#2970a7"/><ellipse cx="153.05" cy="479.90" rx="1.55" ry="1.41" fill="#2970a7"/><ellipse cx="177.95" cy="479.90" rx="1.55" ry="1.41" fill="#2970a7"/><ellipse cx="202.85" cy="479.90" rx="1.55" ry="1.41" fill="#2970a7"/><ellipse cx="227.75" cy="479.90" rx="1.55" ry="1.41" fill="#2970a7"/><ellipse cx="252.65" cy="479.90" rx="1.55" ry="1.41" fill="#2970a7"/><ellipse cx="277.55" cy="479.90" rx="1.55" ry="1.41" fill="#2970a7"/><ellipse cx="302.45" cy="479.90" rx="1.55" ry="1.41" fill="#2970a7"/><ellipse cx="327.35" cy="479.90" rx="1.55" ry="1.41" fill="#2970a7"/><ellipse cx="352.25" cy="479.90" rx="2.55" ry="2.32" fill="#e7504e"/><ellipse cx="377.15" cy="479.90" rx="1.30" ry="1.18" fill="#2970a7"/><ellipse cx="402.05" cy="479.90" rx="1.40" ry="1.27" fill="#2970a7"/><ellipse cx="426.95" cy="479.90" rx="1.30" ry="1.18" fill="#2970a7"/><ellipse cx="451.85" cy="479.90" rx="1.40" ry="1.27" fill="#366da3"/><ellipse cx="78.35" cy="497.25" rx="1.55" ry="1.41" fill="#2970a7"/><ellipse cx="103.25" cy="497.25" rx="1.55" ry="1.41" fill="#2970a7"/><ellipse cx="128.15" cy="497.25" rx="1.55" ry="1.41" fill="#4c6c97"/><ellipse cx="153.05" cy="497.25" rx="1.55" ry="1.41" fill="#2970a7"/><ellipse cx="177.95" cy="497.25" rx="1.55" ry="1.41" fill="#2970a7"/><ellipse cx="202.85" cy="497.25" rx="1.55" ry="1.41" fill="#2970a7"/><ellipse cx="227.75" cy="497.25" rx="1.55" ry="1.41" fill="#2970a7"/><ellipse cx="252.65" cy="497.25" rx="1.55" ry="1.41" fill="#2970a7"/><ellipse cx="277.55" cy="497.25" rx="1.55" ry="1.41" fill="#2970a7"/><ellipse cx="302.45" cy="497.25" rx="1.55" ry="1.41" fill="#2970a7"/><ellipse cx="327.35" cy="497.25" rx="1.55" ry="1.41" fill="#2970a7"/><ellipse cx="352.25" cy="497.25" rx="1.55" ry="1.41" fill="#2970a7"/><ellipse cx="377.15" cy="497.25" rx="1.55" ry="1.41" fill="#2970a7"/><ellipse cx="402.05" cy="497.25" rx="1.55" ry="1.41" fill="#2970a7"/><ellipse cx="426.95" cy="497.25" rx="1.55" ry="1.41" fill="#2970a7"/><ellipse cx="451.85" cy="497.25" rx="2.30" ry="2.09" fill="#e7504e"/></g>
<rect x="66.0" y="3.2" width="398.10" height="502.50" fill="none" stroke="#111" stroke-width="1.6"/>
<g transform="scale(1.1,1)" font-family="Liberation Sans, Arial, sans-serif" font-size="10.0" fill="#111" stroke="#111" stroke-width="0.318"><text x="57.36" y="15.55" text-anchor="end" letter-spacing="0.45">TKTL1</text><text x="57.36" y="32.90" text-anchor="end" letter-spacing="0.45">KIT</text><text x="57.36" y="50.25" text-anchor="end" letter-spacing="0.45">UCHL1</text><text x="57.36" y="67.60" text-anchor="end" letter-spacing="0.45">MEIOB</text><text x="57.36" y="84.95" text-anchor="end" letter-spacing="0.45">SYCP1</text><text x="57.36" y="102.30" text-anchor="end" letter-spacing="0.45">ZPBP</text><text x="57.36" y="119.65" text-anchor="end" letter-spacing="0.45">DMRTC2</text><text x="57.36" y="137.00" text-anchor="end" letter-spacing="0.45">SYCE1</text><text x="57.36" y="154.35" text-anchor="end" letter-spacing="0.45">RAD51AP2</text><text x="57.36" y="171.70" text-anchor="end" letter-spacing="0.45">NME8</text><text x="57.36" y="189.05" text-anchor="end" letter-spacing="0.45">FATE1</text><text x="57.36" y="206.40" text-anchor="end" letter-spacing="0.45">INHA</text><text x="57.36" y="223.75" text-anchor="end" letter-spacing="0.45">CLDN11</text><text x="57.36" y="241.10" text-anchor="end" letter-spacing="0.45">CLU</text><text x="57.36" y="258.45" text-anchor="end" letter-spacing="0.45">STAR</text><text x="57.36" y="275.80" text-anchor="end" letter-spacing="0.45">INSL3</text><text x="57.36" y="293.15" text-anchor="end" letter-spacing="0.45">APOE</text><text x="57.36" y="310.50" text-anchor="end" letter-spacing="0.45">CYP11A1</text><text x="57.36" y="327.85" text-anchor="end" letter-spacing="0.45">CYP17A1</text><text x="57.36" y="345.20" text-anchor="end" letter-spacing="0.45">DCN</text><text x="57.36" y="362.55" text-anchor="end" letter-spacing="0.45">EPHA3</text><text x="57.36" y="379.90" text-anchor="end" letter-spacing="0.45">PDGFRA</text><text x="57.36" y="397.25" text-anchor="end" letter-spacing="0.45">PTCH1</text><text x="57.36" y="414.60" text-anchor="end" letter-spacing="0.45">KDR</text><text x="57.36" y="431.95" text-anchor="end" letter-spacing="0.45">VWF</text><text x="57.36" y="449.30" text-anchor="end" letter-spacing="0.45">PECAM1</text><text x="57.36" y="466.65" text-anchor="end" letter-spacing="0.45">CD163</text><text x="57.36" y="484.00" text-anchor="end" letter-spacing="0.45">C1QA</text><text x="57.36" y="501.35" text-anchor="end" letter-spacing="0.45">NOTCH3</text></g>
<g font-family="Liberation Sans, Arial, sans-serif" fill="#111" stroke="#111"><text x="422.68" y="12.60" transform="scale(1.12,1)" font-size="10.3" letter-spacing="0.45" stroke-width="0.312">pct.exp</text><text x="437.86" y="31.80" transform="scale(1.12,1)" font-size="10.8" letter-spacing="0.45" stroke-width="0.312">0</text><text x="437.86" y="47.90" transform="scale(1.12,1)" font-size="10.8" letter-spacing="0.45" stroke-width="0.312">0.25</text><text x="437.86" y="64.00" transform="scale(1.12,1)" font-size="10.8" letter-spacing="0.45" stroke-width="0.312">0.5</text><text x="437.86" y="79.80" transform="scale(1.12,1)" font-size="10.8" letter-spacing="0.45" stroke-width="0.312">0.75</text><text x="437.86" y="96.00" transform="scale(1.12,1)" font-size="10.8" letter-spacing="0.45" stroke-width="0.312">0.99</text><text x="409.65" y="116.70" transform="scale(1.14,1)" font-size="10.3" letter-spacing="0.6" stroke-width="0.307">avg.exp.scale</text><text x="441.07" y="141.40" transform="scale(1.12,1)" font-size="10.8" letter-spacing="0" stroke-width="0.312">3</text><text x="441.07" y="158.60" transform="scale(1.12,1)" font-size="10.8" letter-spacing="0" stroke-width="0.312">2</text><text x="441.07" y="175.70" transform="scale(1.12,1)" font-size="10.8" letter-spacing="0" stroke-width="0.312">1</text><text x="441.07" y="192.80" transform="scale(1.12,1)" font-size="10.8" letter-spacing="0" stroke-width="0.312">0</text><text x="441.07" y="209.80" transform="scale(1.12,1)" font-size="10.8" letter-spacing="0" stroke-width="0.312">-1</text></g>
<g fill="#626262" stroke="#454545" stroke-width="0.8"><ellipse cx="479.8" cy="28.0" rx="0.75" ry="0.73"/><ellipse cx="479.8" cy="44.1" rx="1.95" ry="1.89"/><ellipse cx="479.8" cy="60.2" rx="3.35" ry="3.25"/><ellipse cx="479.8" cy="76.0" rx="4.55" ry="4.42"/><ellipse cx="479.8" cy="92.2" rx="5.85" ry="5.68"/></g>
<defs><linearGradient id="cb" x1="0" y1="0" x2="0" y2="1"><stop offset="0.0000" stop-color="#EC4A48"/><stop offset="0.1504" stop-color="#E05858"/><stop offset="0.2409" stop-color="#D8606A"/><stop offset="0.3315" stop-color="#CC6670"/><stop offset="0.4221" stop-color="#C07070"/><stop offset="0.5127" stop-color="#B07A78"/><stop offset="0.5543" stop-color="#A08080"/><stop offset="0.6033" stop-color="#908A98"/><stop offset="0.6576" stop-color="#7A88A8"/><stop offset="0.6938" stop-color="#6088BC"/><stop offset="0.7482" stop-color="#4A88C8"/><stop offset="0.8116" stop-color="#3A8CD0"/><stop offset="0.8750" stop-color="#2090D8"/><stop offset="1.0000" stop-color="#0A90DC"/></linearGradient></defs>
<rect x="473.7" y="123.9" width="15.20" height="93.80" fill="url(#cb)"/>
<g stroke="#fff" stroke-width="1.0" stroke-opacity="0.85"><line x1="473.7" y1="137.5" x2="477.5" y2="137.5"/><line x1="485.09999999999997" y1="137.5" x2="488.9" y2="137.5"/><line x1="473.7" y1="154.6" x2="477.5" y2="154.6"/><line x1="485.09999999999997" y1="154.6" x2="488.9" y2="154.6"/><line x1="473.7" y1="171.7" x2="477.5" y2="171.7"/><line x1="485.09999999999997" y1="171.7" x2="488.9" y2="171.7"/><line x1="473.7" y1="188.9" x2="477.5" y2="188.9"/><line x1="485.09999999999997" y1="188.9" x2="488.9" y2="188.9"/><line x1="473.7" y1="206.0" x2="477.5" y2="206.0"/><line x1="485.09999999999997" y1="206.0" x2="488.9" y2="206.0"/></g>
</svg>
</body></html>
